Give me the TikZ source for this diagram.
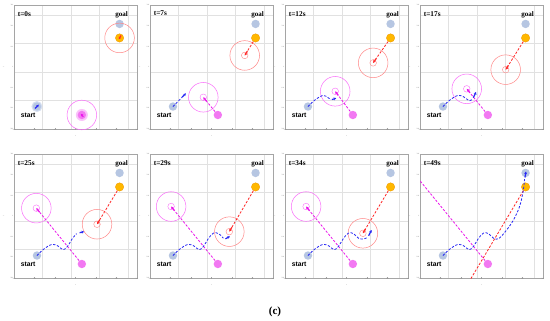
\documentclass[tikz,border=0pt]{standalone}
\usepackage{fontspec}
\setmainfont{Liberation Serif}
\setsansfont{Liberation Sans}
\usetikzlibrary{calc,arrows.meta}
\definecolor{gridgray}{RGB}{225,225,225}
\definecolor{framegray}{RGB}{165,165,165}
\definecolor{goalblue}{RGB}{182,198,226}
\definecolor{halob}{RGB}{212,222,240}
\definecolor{orangeC}{RGB}{255,184,0}
\definecolor{orangeD}{RGB}{238,150,0}
\definecolor{ringred}{RGB}{255,135,135}
\definecolor{dashred}{RGB}{255,40,40}
\definecolor{magfill}{RGB}{242,120,242}
\definecolor{halom}{RGB}{250,195,250}
\definecolor{ringmag}{RGB}{250,110,250}
\definecolor{dashmag}{RGB}{235,20,235}
\definecolor{bluedashC}{RGB}{40,40,245}
\tikzset{
  gridc/.style={draw=gridgray, line width=0.35pt},
  framec/.style={draw=framegray, line width=0.4pt},
  ticklab/.style={font=\fontsize{1.7}{2}\selectfont, text=gray, inner sep=0.2pt},
  goalc/.style={circle, fill=goalblue, minimum size=8.4pt, inner sep=0pt},
  haloblue/.style={circle, fill=halob, minimum size=11pt, inner sep=0pt},
  halomag/.style={circle, fill=halom, minimum size=12pt, inner sep=0pt},
  obsc/.style={circle, fill=orangeC, draw=orangeD, line width=0.3pt, minimum size=8.4pt, inner sep=0pt},
  magc/.style={circle, fill=magfill, minimum size=8.4pt, inner sep=0pt},
  bigred/.style={circle, draw=ringred, line width=0.5pt, minimum size=29.6pt, inner sep=0pt},
  smallred/.style={circle, draw=ringred, line width=0.4pt, minimum size=6.6pt, inner sep=0pt},
  bigmag/.style={circle, draw=ringmag, line width=0.5pt, minimum size=29.6pt, inner sep=0pt},
  smallmag/.style={circle, draw=ringmag, line width=0.4pt, minimum size=6.6pt, inner sep=0pt},
  reddash/.style={draw=dashred, dash pattern=on 2.4pt off 1.6pt, line width=0.8pt},
  magdash/.style={draw=dashmag, dash pattern=on 2.4pt off 1.6pt, line width=0.8pt},
  bluedash/.style={draw=bluedashC, dash pattern=on 2.4pt off 1.6pt, line width=0.8pt},
  redarr/.style={draw=dashred, line width=1.2pt, -{Stealth[length=2.6pt,width=2.8pt]}},
  magarr/.style={draw=dashmag, line width=1.2pt, -{Stealth[length=2.6pt,width=2.8pt]}},
  bluearr/.style={draw=bluedashC, line width=1.2pt, -{Stealth[length=2.6pt,width=2.8pt]}},
  goaltxt/.style={font=\bfseries\fontsize{7}{8}\selectfont, inner sep=0pt},
  starttxt/.style={font=\sffamily\bfseries\fontsize{6.8}{8}\selectfont, inner sep=0pt},
  ttxt/.style={anchor=west, font=\bfseries\fontsize{7.3}{8}\selectfont, inner sep=0pt},
  figlab/.style={font=\bfseries\fontsize{11}{12}\selectfont, inner sep=0pt}
}
\newcommand\pbase[1]{%
  \fill[white] (0,0) rectangle (6,6);
  \draw[gridc] (0,0) grid (6,6);
  \draw[framec] (0,0) rectangle (6,6);
  \foreach \i/\v in {0/-300,1/-200,2/-100,3/0,4/100,5/200,6/300}{
    \draw[framec] (\i,0) -- (\i,0.07) (0,\i) -- (0.07,\i);
    \node[ticklab,below=0.4pt] (xl#1\i) at (\i,0) {\v};
    \node[ticklab,left=0.4pt] (yl#1\i) at (0,\i) {\v};
  }
  \node[ticklab] (xt#1) at (3,-0.33) {x};
  \node[ticklab,rotate=90] (yt#1) at (-0.5,3) {y};
}
\newcommand\pmarks[2]{%
  \node[goalc] (goal#1) at (5.15,5.1) {};
  \node[goaltxt] (goalt#1) at (5.25,5.53) {goal};
  \node[goalc] (start#1) at (1.12,1.09) {};
  \node[starttxt] (startt#1) at (0.69,0.68) {start};
  \node[obsc] (obs#1) at (5.15,4.42) {};
  \node[magc] (mag#1) at (3.31,0.68) {};
  \node[ttxt] (time#1) at (0.18,5.6) {#2};
}
\begin{document}
\begin{tikzpicture}[x=1pt,y=1pt]
\useasboundingbox (0,0) rectangle (550,321);
\fill[white] (0,0) rectangle (550,321);

% ---------- panel 1 : t=0s
\begin{scope}[shift={(14pt,192pt)},x=20.5pt,y=20.6pt]
  \pbase{1}
  \node[haloblue] (sh1) at (1.12,1.09) {};
  \node[halomag] (mh1) at (3.31,0.68) {};
  \pmarks{1}{t=0s}
  \node[bigred] (Rb1) at (obs1.center) {};
  \node[bigmag] (Mb1) at (mag1.center) {};
  \draw[redarr] ($(obs1.center)+(0.07,0.12)$) -- ($(obs1.center)+(-0.04,-0.07)$);
  \draw[magarr] ($(mag1.center)+(0.07,-0.09)$) -- ($(mag1.center)+(-0.05,0.06)$);
  \draw[bluearr] ($(start1.center)+(-0.09,-0.09)$) -- ($(start1.center)+(0.09,0.09)$);
\end{scope}

% ---------- panel 2 : t=7s
\begin{scope}[shift={(150pt,192pt)},x=20.5pt,y=20.6pt]
  \pbase{2}
  \pmarks{2}{t=7s}
  \node[bigred] (Rb2) at (4.62,3.57) {};
  \node[smallred] (R2) at (4.62,3.57) {};
  \node[bigmag] (Mb2) at (2.6,1.54) {};
  \node[smallmag] (M2) at (2.6,1.54) {};
  \coordinate (B2) at (1.75,1.73);
  \draw[reddash] (obs2) -- (R2);
  \draw[redarr] ($(R2.center)!5pt!(obs2.center)$) -- (R2.center);
  \draw[magdash] (mag2) -- (M2);
  \draw[magarr] ($(M2.center)!5pt!(mag2.center)$) -- (M2.center);
  \draw[bluedash] (start2.center) -- ($(B2)!5pt!(start2.center)$);
  \draw[bluearr] ($(B2)!5pt!(start2.center)$) -- (B2);
\end{scope}

% ---------- panel 3 : t=12s
\begin{scope}[shift={(285pt,192pt)},x=20.5pt,y=20.6pt]
  \pbase{3}
  \pmarks{3}{t=12s}
  \node[bigred] (Rb3) at (4.3,3.21) {};
  \node[smallred] (R3) at (4.3,3.21) {};
  \node[bigmag] (Mb3) at (2.45,1.83) {};
  \node[smallmag] (M3) at (2.45,1.83) {};
  \coordinate (B3) at (2.5,1.5);
  \draw[reddash] (obs3) -- (R3);
  \draw[redarr] ($(R3.center)!5pt!(obs3.center)$) -- (R3.center);
  \draw[magdash] (mag3) -- (M3);
  \draw[magarr] ($(M3.center)!5pt!(mag3.center)$) -- (M3.center);
  \draw[bluedash] plot[smooth,tension=0.6] coordinates {(start3.center) (1.45,1.4) (1.85,1.63) (2.1,1.52) (2.25,1.42)};
  \draw[bluearr] (2.3,1.43) -- (B3);
\end{scope}

% ---------- panel 4 : t=17s
\begin{scope}[shift={(420pt,192pt)},x=20.5pt,y=20.6pt]
  \pbase{4}
  \pmarks{4}{t=17s}
  \node[bigred] (Rb4) at (4.18,2.88) {};
  \node[smallred] (R4) at (4.18,2.88) {};
  \node[bigmag] (Mb4) at (2.28,1.95) {};
  \node[smallmag] (M4) at (2.28,1.95) {};
  \coordinate (B4) at (2.74,1.8);
  \draw[reddash] (obs4) -- (R4);
  \draw[redarr] ($(R4.center)!5pt!(obs4.center)$) -- (R4.center);
  \draw[magdash] (mag4) -- (M4);
  \draw[magarr] ($(M4.center)!5pt!(mag4.center)$) -- (M4.center);
  \draw[bluedash] plot[smooth,tension=0.6] coordinates {(start4.center) (1.45,1.4) (1.85,1.63) (2.15,1.55) (2.4,1.37) (2.55,1.45)};
  \draw[bluearr] (2.6,1.52) -- (B4);
\end{scope}

% ---------- panel 5 : t=25s
\begin{scope}[shift={(14pt,43pt)},x=20.5pt,y=20.6pt]
  \pbase{5}
  \pmarks{5}{t=25s}
  \node[bigred] (Rb5) at (4.05,2.61) {};
  \node[smallred] (R5) at (4.05,2.61) {};
  \node[bigmag] (Mb5) at (1.09,3.39) {};
  \node[smallmag] (M5) at (1.09,3.39) {};
  \coordinate (B5) at (3.42,2.25);
  \draw[reddash] (obs5) -- (R5);
  \draw[redarr] ($(R5.center)!5pt!(obs5.center)$) -- (R5.center);
  \draw[magdash] (mag5) -- (M5);
  \draw[magarr] ($(M5.center)!5pt!(mag5.center)$) -- (M5.center);
  \draw[bluedash] plot[smooth,tension=0.6] coordinates {(start5.center) (1.45,1.4) (1.85,1.63) (2.15,1.55) (2.4,1.37) (2.62,1.55) (2.85,1.92) (3.05,2.15)};
  \draw[bluearr] (3.2,2.2) -- (B5);
\end{scope}

% ---------- panel 6 : t=29s
\begin{scope}[shift={(150pt,43pt)},x=20.5pt,y=20.6pt]
  \pbase{6}
  \pmarks{6}{t=29s}
  \node[bigred] (Rb6) at (3.87,2.25) {};
  \node[smallred] (R6) at (3.87,2.25) {};
  \node[bigmag] (Mb6) at (1.03,3.47) {};
  \node[smallmag] (M6) at (1.03,3.47) {};
  \coordinate (B6) at (3.9,2.02);
  \draw[reddash] (obs6) -- (R6);
  \draw[redarr] ($(R6.center)!5pt!(obs6.center)$) -- (R6.center);
  \draw[magdash] (mag6) -- (M6);
  \draw[magarr] ($(M6.center)!5pt!(mag6.center)$) -- (M6.center);
  \draw[bluedash] plot[smooth,tension=0.6] coordinates {(start6.center) (1.45,1.4) (1.85,1.63) (2.15,1.55) (2.4,1.37) (2.62,1.55) (2.85,1.92) (3.1,2.18) (3.35,2.15) (3.58,1.93)};
  \draw[bluearr] (3.68,1.9) -- (B6);
\end{scope}

% ---------- panel 7 : t=34s
\begin{scope}[shift={(285pt,43pt)},x=20.5pt,y=20.6pt]
  \pbase{7}
  \pmarks{7}{t=34s}
  \node[bigred] (Rb7) at (3.8,2.17) {};
  \node[smallred] (R7) at (3.8,2.17) {};
  \node[bigmag] (Mb7) at (1.03,3.47) {};
  \node[smallmag] (M7) at (1.03,3.47) {};
  \coordinate (B7) at (4.22,2.33);
  \draw[reddash] (obs7) -- (R7);
  \draw[redarr] ($(R7.center)!5pt!(obs7.center)$) -- (R7.center);
  \draw[magdash] (mag7) -- (M7);
  \draw[magarr] ($(M7.center)!5pt!(mag7.center)$) -- (M7.center);
  \draw[bluedash] plot[smooth,tension=0.6] coordinates {(start7.center) (1.45,1.4) (1.85,1.63) (2.15,1.55) (2.4,1.37) (2.62,1.55) (2.85,1.92) (3.1,2.18) (3.35,2.15) (3.6,1.92) (3.85,1.9) (4.0,1.96)};
  \draw[bluearr] (4.08,2.05) -- (B7);
\end{scope}

% ---------- panel 8 : t=49s
\begin{scope}[shift={(420pt,43pt)},x=20.5pt,y=20.6pt]
  \pbase{8}
  \pmarks{8}{t=49s}
  \coordinate (Mend8) at (0,4.72);
  \coordinate (Rend8) at (2.47,-0.05);
  \coordinate (B8) at (5.17,5.17);
  \draw[magdash] (mag8) -- (Mend8);
  \draw[reddash] (obs8) -- (Rend8);
  \draw[bluedash] plot[smooth,tension=0.6] coordinates {(start8.center) (1.45,1.4) (1.85,1.63) (2.15,1.55) (2.4,1.37) (2.62,1.55) (2.85,1.92) (3.1,2.18) (3.35,2.15) (3.6,1.92) (3.85,1.92) (4.2,2.3) (4.55,2.8) (4.85,3.45) (5.03,4.2) (5.1,4.8)};
  \draw[bluearr] (5.12,4.88) -- (B8);
\end{scope}

\node[figlab] (figc) at (275,9) {(c)};
\end{tikzpicture}
\end{document}
